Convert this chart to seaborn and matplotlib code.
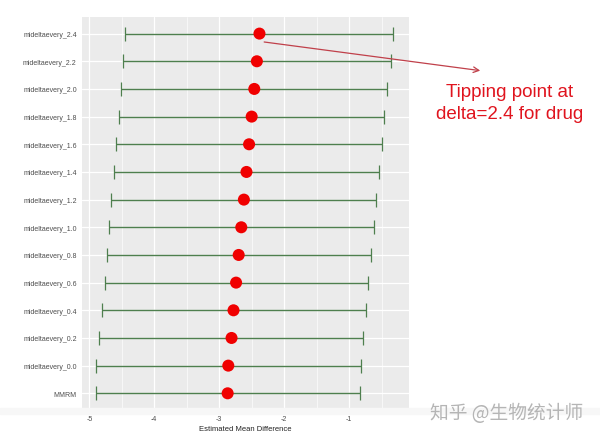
import numpy as np
import pandas as pd
import matplotlib
matplotlib.use("Agg")
import matplotlib.pyplot as plt
import seaborn as sns
from matplotlib.patches import Rectangle

# rows, bottom to top
labels = ["MMRM", "mideltaevery_0.0", "mideltaevery_0.2", "mideltaevery_0.4",
          "mideltaevery_0.6", "mideltaevery_0.8", "mideltaevery_1.0",
          "mideltaevery_1.2", "mideltaevery_1.4", "mideltaevery_1.6",
          "mideltaevery_1.8", "mideltaevery_2.0", "mideltaevery_2.2",
          "mideltaevery_2.4"]
estimate = [-2.87, -2.86, -2.81, -2.78, -2.74, -2.70, -2.66,
            -2.62, -2.58, -2.54, -2.50, -2.46, -2.42, -2.38]
lower = [-4.90, -4.89, -4.85, -4.80, -4.76, -4.73, -4.69,
         -4.66, -4.62, -4.59, -4.55, -4.52, -4.48, -4.45]
upper = [-0.83, -0.82, -0.78, -0.74, -0.71, -0.66, -0.62,
         -0.58, -0.54, -0.50, -0.46, -0.41, -0.36, -0.32]

df = pd.DataFrame({"label": labels, "est": estimate, "lo": lower, "hi": upper})
df["pos"] = np.arange(len(df))

sns.set_theme(style="darkgrid", rc={
    "axes.facecolor": "#EBEBEB",
    "grid.color": "white",
    "xtick.color": "#4D4D4D",
    "ytick.color": "#4D4D4D",
})
plt.rcParams["font.family"] = ["Liberation Sans", "DejaVu Sans"]

fig = plt.figure(figsize=(6, 4.39), dpi=100)

# faint band behind the watermark
fig.patches.append(Rectangle((0, 0.054), 1, 0.014, transform=fig.transFigure,
                             color="#F7F7F7", zorder=0))

ax = fig.add_axes([0.137, 0.064, 0.545, 0.895])
ax.set_axisbelow(True)

ax.errorbar(df["est"], df["pos"],
            xerr=[df["est"] - df["lo"], df["hi"] - df["est"]],
            fmt="none", ecolor="#4E7F4E", elinewidth=1.0, capsize=5,
            capthick=0.9, zorder=2)
sns.scatterplot(data=df, x="est", y="pos", color="#F00000", s=75,
                edgecolor="none", ax=ax, zorder=3, legend=False)

ax.set_xlim(-5.11, -0.074)
ax.set_ylim(-0.6, len(df) - 0.4)
ax.set_yticks(df["pos"])
ax.set_yticklabels(df["label"])
ax.set_xticks([-5, -4, -3, -2, -1])
ax.set_xticklabels(["-5", "-4", "-3", "-2", "-1"])
ax.set_xticks([-4.5, -3.5, -2.5, -1.5, -0.5], minor=True)
ax.grid(which="major", color="white", linewidth=0.9, zorder=0)
ax.grid(which="minor", axis="x", color="white", linewidth=0.45, zorder=0)
ax.tick_params(axis="both", which="major", labelsize=5, length=2.5,
               width=0.6, color="#4D4D4D", pad=1.5)
ax.tick_params(axis="x", which="minor", length=0)
ax.set_xlabel("Estimated Mean Difference", fontsize=5.5, color="#222222",
              labelpad=2)
ax.set_ylabel("")
for s in ax.spines.values():
    s.set_visible(False)

# annotation arrow to the tipping point note
ax.annotate("", xy=(0.805, 0.836), xycoords="figure fraction",
            xytext=(-2.35, 12.71), textcoords="data",
            arrowprops=dict(arrowstyle="->", color="#C0404A", lw=0.9,
                            mutation_scale=10),
            annotation_clip=False)
fig.text(0.85, 0.765, "Tipping point at\ndelta=2.4 for drug", ha="center",
         va="center", fontsize=13.5, color="#E0141E", linespacing=1.4)

# watermark
fig.text(0.845, 0.059, "知乎 @生物统计师", ha="center", va="center",
         fontsize=13.5, color="#B5B5B5",
         family=["Noto Sans CJK SC", "DejaVu Sans"])

fig.savefig("out.png", dpi=100)
